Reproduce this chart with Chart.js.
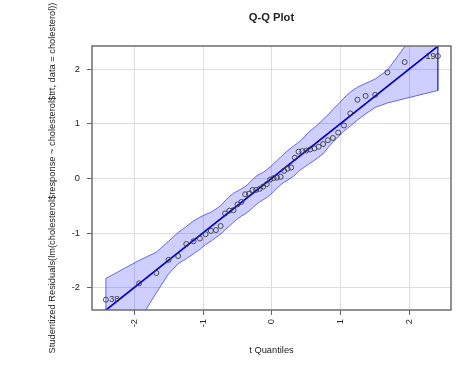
<!DOCTYPE html>
<html>
<head>
<meta charset="utf-8">
<title>Q-Q Plot</title>
<script src="https://cdn.jsdelivr.net/npm/chart.js@4.4.0/dist/chart.umd.min.js"></script>
<style>
  html, body { margin: 0; padding: 0; background: #fff; }
  #wrap { width: 474px; height: 368px; }
</style>
</head>
<body>
<div id="wrap"><canvas id="qqChart" width="474" height="368"></canvas></div>
<script>
// t quantiles (df = 44) of the 50 studentized residuals
const tQuantiles = [-2.414, -1.931, -1.680, -1.503, -1.363, -1.245, -1.141, -1.048, -0.964, -0.887,
  -0.814, -0.745, -0.680, -0.618, -0.557, -0.500, -0.443, -0.388, -0.334, -0.281,
  -0.229, -0.177, -0.127, -0.075, -0.025, 0.025, 0.075, 0.127, 0.177, 0.229,
  0.281, 0.334, 0.388, 0.443, 0.500, 0.557, 0.618, 0.680, 0.745, 0.814,
  0.887, 0.964, 1.048, 1.141, 1.245, 1.363, 1.503, 1.680, 1.931, 2.414];

const studResiduals = [-2.22, -1.92, -1.73, -1.49, -1.42, -1.20, -1.15, -1.10, -1.02, -0.96,
  -0.945, -0.87, -0.64, -0.59, -0.58, -0.475, -0.43, -0.29, -0.28, -0.21,
  -0.21, -0.19, -0.15, -0.105, -0.02, 0.005, 0.015, 0.03, 0.14, 0.18,
  0.20, 0.38, 0.49, 0.50, 0.51, 0.53, 0.55, 0.58, 0.63, 0.70,
  0.74, 0.84, 0.97, 1.19, 1.44, 1.51, 1.53, 1.94, 2.13, 2.24];

// confidence envelope
const envUpper = [-1.83, -1.50, -1.35, -1.15, -0.99, -0.88, -0.78, -0.71, -0.66, -0.62,
  -0.56, -0.50, -0.41, -0.33, -0.27, -0.23, -0.19, -0.15, -0.09, -0.02,
  0.04, 0.08, 0.11, 0.16, 0.21, 0.27, 0.33, 0.39, 0.45, 0.51,
  0.56, 0.61, 0.66, 0.72, 0.80, 0.87, 0.93, 1.00, 1.08, 1.16,
  1.26, 1.36, 1.47, 1.58, 1.67, 1.74, 1.82, 1.98, 2.41, 3.00];
const envLower = [-3.91, -2.61, -2.09, -1.75, -1.56, -1.47, -1.38, -1.30, -1.21, -1.15,
  -1.08, -1.02, -0.94, -0.87, -0.80, -0.74, -0.69, -0.65, -0.60, -0.54,
  -0.48, -0.43, -0.39, -0.35, -0.30, -0.24, -0.18, -0.12, -0.07, -0.03,
  0.01, 0.06, 0.13, 0.18, 0.23, 0.28, 0.33, 0.39, 0.45, 0.56,
  0.67, 0.76, 0.87, 0.96, 1.07, 1.18, 1.30, 1.38, 1.46, 1.61];

// reference line
const refLineX = [-2.62, 2.62];
const refLineY = [-2.615, 2.625];

const xTicks = [-2, -1, 0, 1, 2];
const yTicks = [-2, -1, 0, 1, 2];

const pointLabels = ['38', '19'];
const labelIndex = [0, 49];

const mainTitle = 'Q-Q Plot';
const xTitle = 't Quantiles';
const yTitle = 'Studentized Residuals(lm(cholesterol$response ~ cholesterol$trt, data = cholesterol))';

const fontFamily = '"Liberation Sans", Arial, sans-serif';
const textColor = '#222';

// envelope polygon: upper edge, then lower edge backwards
const bandPoints = tQuantiles.map((x, i) => ({ x: x, y: envUpper[i] }))
  .concat(tQuantiles.map((x, i) => ({ x: x, y: envLower[i] })).reverse());
bandPoints.push(bandPoints[0]);

// Box, title, y label and point labels
const decorations = {
  id: 'decorations',
  afterDatasetsDraw(chart) {
    const ctx = chart.ctx;
    const xs = chart.scales.x;
    const ys = chart.scales.y;
    ctx.save();
    ctx.font = '9.6px ' + fontFamily;
    ctx.fillStyle = '#333';
    ctx.textBaseline = 'middle';
    labelIndex.forEach((idx, k) => {
      const px = xs.getPixelForValue(tQuantiles[idx]);
      const py = ys.getPixelForValue(studResiduals[idx]);
      if (px < (xs.left + xs.right) / 2) {
        ctx.textAlign = 'left';
        ctx.fillText(pointLabels[k], px + 3, py);
      } else {
        ctx.textAlign = 'right';
        ctx.fillText(pointLabels[k], px - 2, py);
      }
    });
    ctx.restore();
  },
  afterDraw(chart) {
    const ctx = chart.ctx;
    const area = chart.chartArea;
    ctx.save();
    ctx.strokeStyle = '#6e6e6e';
    ctx.lineWidth = 1.5;
    ctx.strokeRect(area.left, area.top, area.right - area.left, area.bottom - area.top);

    ctx.fillStyle = textColor;
    ctx.textAlign = 'center';
    ctx.textBaseline = 'middle';
    ctx.font = 'bold 11.2px ' + fontFamily;
    ctx.fillText(mainTitle, (area.left + area.right) / 2, 17.5);

    ctx.font = '9.3px ' + fontFamily;
    ctx.translate(52, (area.top + area.bottom) / 2);
    ctx.rotate(-Math.PI / 2);
    ctx.fillText(yTitle, 0, 0);
    ctx.restore();
  }
};

const gridOpts = {
  color: '#dedede',
  lineWidth: 1,
  drawTicks: true,
  tickLength: 5,
  tickColor: '#666',
  tickWidth: 1
};

const ctx = document.getElementById('qqChart');
new Chart(ctx, {
  type: 'scatter',
  data: {
    datasets: [
      {
        label: 'envelope',
        data: bandPoints,
        showLine: true,
        fill: 'shape',
        backgroundColor: 'rgba(0, 0, 255, 0.19)',
        borderColor: 'rgba(40, 40, 220, 0.85)',
        borderWidth: 0.8,
        pointRadius: 0,
        tension: 0,
        clip: 0,
        order: 3
      },
      {
        label: 'line',
        data: refLineX.map((x, i) => ({ x: x, y: refLineY[i] })),
        showLine: true,
        borderColor: '#0000c8',
        borderWidth: 1.7,
        pointRadius: 0,
        clip: 0,
        order: 2
      },
      {
        label: 'residuals',
        data: tQuantiles.map((x, i) => ({ x: x, y: studResiduals[i] })),
        pointRadius: 2.5,
        pointBackgroundColor: 'rgba(0,0,0,0)',
        pointBorderColor: '#3a3a3a',
        pointBorderWidth: 0.9,
        order: 1
      }
    ]
  },
  options: {
    responsive: false,
    animation: false,
    devicePixelRatio: 1,
    layout: { padding: { top: 46, right: 23, left: 0, bottom: 0 } },
    plugins: {
      legend: { display: false },
      tooltip: { enabled: false },
      title: { display: false }
    },
    scales: {
      x: {
        type: 'linear',
        min: -2.616,
        max: 2.605,
        afterFit: s => { s.height = 58; },
        afterBuildTicks: s => { s.ticks = xTicks.map(v => ({ value: v })); },
        grid: gridOpts,
        border: { display: false },
        ticks: {
          autoSkip: false,
          minRotation: 90,
          maxRotation: 90,
          padding: 4,
          color: textColor,
          font: { family: fontFamily, size: 9.3 },
          callback: v => String(v)
        },
        title: {
          display: true,
          text: xTitle,
          color: textColor,
          font: { family: fontFamily, size: 9.3 },
          padding: { top: 0, bottom: 11.9 }
        }
      },
      y: {
        type: 'linear',
        min: -2.408,
        max: 2.424,
        afterFit: s => { s.width = 92; },
        afterBuildTicks: s => { s.ticks = yTicks.map(v => ({ value: v })); },
        grid: gridOpts,
        border: { display: false },
        ticks: {
          padding: 7,
          color: textColor,
          font: { family: fontFamily, size: 9.3 },
          callback: v => String(v)
        }
      }
    }
  },
  plugins: [decorations]
});
</script>
</body>
</html>
